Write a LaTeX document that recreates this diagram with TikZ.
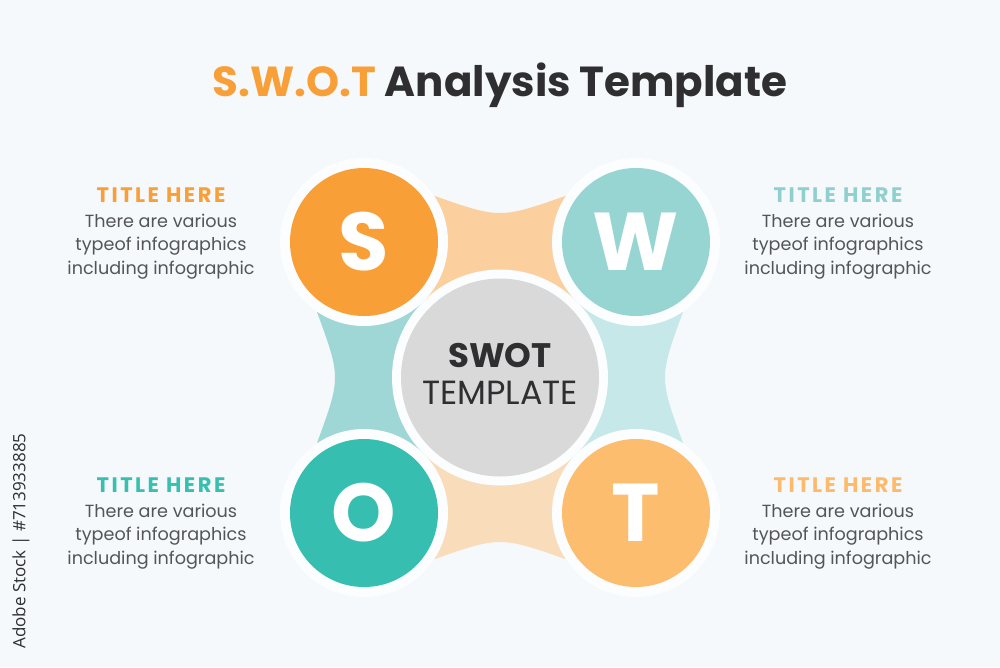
\documentclass[tikz,border=0pt]{standalone}
\usepackage{fontspec}
\setmainfont{Poppins}
\newfontfamily\popb{Poppins}[UprightFont=* Bold]
\newfontfamily\popbs{Poppins}[UprightFont=* Bold, LetterSpace=12]
\newfontfamily\wmfont{Open Sans}
\definecolor{bg}{HTML}{F5F9FC}
\definecolor{ringc}{HTML}{FBFDFE}
\definecolor{cS}{HTML}{F99F38}
\definecolor{cW}{HTML}{97D5D3}
\definecolor{cO}{HTML}{36BFB1}
\definecolor{cT}{HTML}{FDBD6E}
\definecolor{kTop}{HTML}{FBCF9E}
\definecolor{kLeft}{HTML}{9FD7D6}
\definecolor{kRight}{HTML}{C6E8E8}
\definecolor{kBot}{HTML}{F9DDBA}
\definecolor{cGray}{HTML}{D9D9D9}
\definecolor{dark}{HTML}{2F2F31}
\definecolor{body}{HTML}{555557}
\definecolor{tW}{HTML}{8FD0CF}
\definecolor{tO}{HTML}{38BFB0}
\definecolor{tT}{HTML}{FDBA6A}
\begin{document}
\begin{tikzpicture}[x=1pt,y=-1pt,
  letterc/.style={circle,minimum size=148pt,inner sep=0pt,text=white,font=\popb\fontsize{82}{82}\selectfont},
  ttl/.style={anchor=base,font=\popbs\fontsize{21}{24}\selectfont},
  bodytxt/.style={anchor=base,align=center,text=body,font=\fontsize{17.6}{23.5}\selectfont},
]
\useasboundingbox (0,0) rectangle (1000,667);
\fill[bg] (0,0) rectangle (1000,667);
% centres
\coordinate (cs) at (364,242);
\coordinate (cw) at (636,242);
\coordinate (co) at (364,513);
\coordinate (ct) at (636,513);
\coordinate (cm) at (500,377.5);
% connector shapes
\fill[kTop] (cs) -- (432,195) .. controls (500,219) .. (568,195) -- (cw) -- (cm) -- cycle;
\fill[kLeft] (cs) -- (317,312) .. controls (341,377.5) .. (317,443) -- (co) -- (cm) -- cycle;
\fill[kRight] (cw) -- (683,312) .. controls (659,377.5) .. (683,443) -- (ct) -- (cm) -- cycle;
\fill[kBot] (co) -- (432,560) .. controls (500,536) .. (568,560) -- (ct) -- (cm) -- cycle;
% rings
\foreach \c in {cs,cw,co,ct} \fill[ringc] (\c) circle[radius=84];
\fill[ringc] (cm) circle[radius=108];
% circles
\node[letterc,fill=cS] (S) at (cs) {S};
\node[letterc,fill=cW] (W) at (cw) {W};
\node[letterc,fill=cO] (O) at (co) {O};
\node[letterc,fill=cT] (T) at (ct) {T};
\node[circle,fill=cGray,minimum size=198pt,inner sep=0pt] (M) at (cm) {};
\node[anchor=base,text=dark,font=\popb\fontsize{34}{34}\selectfont] (mt1) at (500,367) {SWOT};
\node[anchor=base,text=dark,font=\fontsize{33.5}{34}\selectfont] (mt2) at (500,404) {TEMPLATE};
% title
\node[anchor=base,font=\popb\fontsize{42}{42}\selectfont] (title) at (500,96) {\textcolor{cS}{S.W.O.T} \textcolor{dark}{Analysis Template}};
% side texts
\node[ttl,text=cS] (t1) at (161,202) {TITLE HERE};
\node[bodytxt] (b1) at (161,274) {There are various\\typeof infographics\\including infographic};
\node[ttl,text=tW] (t2) at (838,202) {TITLE HERE};
\node[bodytxt] (b2) at (838,274) {There are various\\typeof infographics\\including infographic};
\node[ttl,text=tO] (t3) at (161,492) {TITLE HERE};
\node[bodytxt] (b3) at (161,564) {There are various\\typeof infographics\\including infographic};
\node[ttl,text=tT] (t4) at (838,492) {TITLE HERE};
\node[bodytxt] (b4) at (838,564) {There are various\\typeof infographics\\including infographic};
% side strip text
\node[rotate=90,text=dark,font=\wmfont\fontsize{17}{17}\selectfont] (wm) at (21,541) {Adobe Stock | \#713933885};
\end{tikzpicture}
\end{document}
